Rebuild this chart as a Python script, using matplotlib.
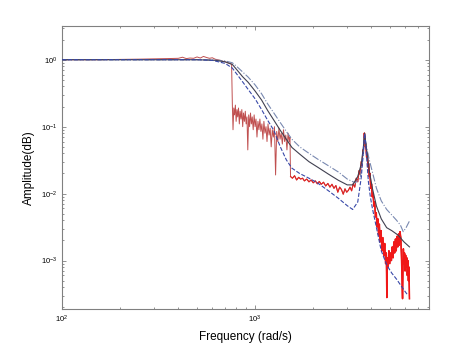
import matplotlib
matplotlib.use("Agg")
import matplotlib.pyplot as plt
import numpy as np

plt.rcParams['font.family'] = ['Liberation Sans', 'DejaVu Sans']

# measured response (noisy)
meas_f = [100, 150, 200, 250, 300, 350, 400, 420, 440, 460, 480, 500, 520, 540, 560, 580, 600, 620, 640, 660, 680, 700, 720, 740, 755,
          762, 768, 775, 782, 790, 797, 805, 812, 820, 828, 836, 845, 853, 862, 870, 880, 889, 898, 907, 916,
          926, 936, 946, 956, 966, 977, 988, 999, 1010, 1022, 1034, 1046, 1058, 1071, 1084, 1097, 1110, 1124, 1138, 1152,
          1166, 1181, 1196, 1211, 1227, 1243, 1259, 1276, 1293, 1310, 1328, 1346, 1364, 1383, 1402, 1421, 1441, 1461, 1481, 1500, 1515,
          1525, 1560, 1600, 1640, 1680, 1720, 1760, 1800, 1850, 1900, 1950, 2000, 2050, 2100, 2150, 2200, 2260, 2320, 2380, 2440,
          2500, 2560, 2620, 2680, 2740, 2800, 2860, 2920, 2980, 3040,
          3100, 3160, 3220, 3280, 3340, 3400, 3450, 3500, 3540, 3580, 3610, 3640, 3665, 3680,
          3700, 3725, 3750, 3780, 3810, 3840, 3870, 3900, 3935, 3970, 4005, 4040, 4080, 4120, 4160, 4200, 4240, 4280, 4320, 4360,
          4400, 4440, 4490, 4540, 4590, 4640, 4690, 4740, 4780, 4810, 4840, 4880, 4930, 4980, 5030, 5080, 5130, 5180, 5230, 5280,
          5330, 5380, 5430, 5480, 5530, 5580, 5630, 5680, 5720, 5760, 5800, 5830, 5860, 5900, 5940, 5980, 6020, 6060, 6100, 6140,
          6180, 6220, 6260, 6300]
meas_a = [1.0, 1.0, 1.01, 1.02, 1.03, 1.04, 1.05, 1.09, 1.04, 1.06, 1.05, 1.10, 1.06, 1.12, 1.08, 1.05, 1.07, 1.02, 1.0, 0.98, 0.95, 0.93, 0.9, 0.88, 0.86,
          0.21, 0.09, 0.19, 0.15, 0.21, 0.12, 0.18, 0.14, 0.19, 0.11, 0.17, 0.13, 0.18, 0.10, 0.16, 0.12, 0.17, 0.11, 0.14, 0.045,
          0.15, 0.10, 0.16, 0.11, 0.14, 0.09, 0.15, 0.10, 0.13, 0.07, 0.12, 0.09, 0.13, 0.085, 0.11, 0.065, 0.12, 0.08, 0.10, 0.06,
          0.11, 0.075, 0.095, 0.05, 0.09, 0.07, 0.10, 0.019, 0.085, 0.06, 0.095, 0.065, 0.08, 0.055, 0.09, 0.06, 0.075, 0.045, 0.08, 0.06, 0.07,
          0.018, 0.017, 0.0185, 0.016, 0.0175, 0.0165, 0.017, 0.0155, 0.0165, 0.015, 0.016, 0.0145, 0.0155, 0.014, 0.0152, 0.0138, 0.0148, 0.013, 0.0142, 0.0125,
          0.0138, 0.012, 0.0132, 0.0105, 0.0125, 0.0115, 0.0098, 0.0118, 0.0105, 0.0112,
          0.0125, 0.011, 0.014, 0.0125, 0.017, 0.015, 0.022, 0.019, 0.03, 0.026, 0.045, 0.04, 0.07, 0.08,
          0.07, 0.05, 0.055, 0.035, 0.04, 0.025, 0.028, 0.018, 0.02, 0.012, 0.014, 0.009, 0.010, 0.0065, 0.0075, 0.0045, 0.0052, 0.0032, 0.0042, 0.0024,
          0.0035, 0.0019, 0.0028, 0.0014, 0.0022, 0.0012, 0.0018, 0.0009, 0.0013, 0.00028, 0.0011, 0.0008, 0.0014, 0.0009, 0.0013, 0.0010, 0.0016, 0.0011, 0.0019, 0.0013,
          0.0021, 0.0014, 0.0023, 0.0016, 0.0025, 0.0017, 0.0027, 0.0022, 0.0013, 0.0006, 0.00027, 0.0008, 0.0015, 0.0009, 0.0013, 0.0007, 0.0012, 0.0008, 0.0011, 0.0006,
          0.0010, 0.0005, 0.0008, 0.00027]

# nominal model
nom_f = [100, 300, 500, 620, 700, 762, 800, 860, 920, 1000, 1080, 1160, 1250, 1350, 1450, 1550, 1700, 1900, 2100, 2400,
         2700, 3000, 3200, 3400, 3550, 3650, 3690, 3730, 3800, 3900, 4050, 4250, 4500, 4800, 5100, 5500, 5900, 6300]
nom_a = [1.0, 1.0, 1.0, 0.98, 0.93, 0.85, 0.72, 0.56, 0.46, 0.34, 0.25, 0.175, 0.125, 0.088, 0.065, 0.049, 0.039, 0.030, 0.025, 0.0195,
         0.0158, 0.0135, 0.0135, 0.018, 0.028, 0.055, 0.08, 0.06, 0.04, 0.022, 0.012, 0.0065, 0.0042, 0.0031, 0.0028, 0.0024, 0.0019, 0.0016]

# upper bound model
up_f = [100, 300, 500, 620, 700, 762, 800, 860, 920, 1000, 1080, 1160, 1250, 1350, 1450, 1550, 1700, 1900, 2100, 2400,
        2700, 3000, 3300, 3500, 3620, 3680, 3720, 3800, 3900, 4050, 4250, 4500, 4800, 5100, 5400, 5650, 5850, 6050, 6300]
up_a = [1.0, 1.0, 1.0, 0.99, 0.96, 0.9, 0.8, 0.66, 0.55, 0.42, 0.31, 0.22, 0.16, 0.115, 0.085, 0.065, 0.05, 0.04, 0.033, 0.026,
        0.021, 0.0165, 0.0145, 0.017, 0.035, 0.075, 0.065, 0.045, 0.032, 0.021, 0.012, 0.0078, 0.0058, 0.0048, 0.004, 0.0034, 0.0027, 0.0031, 0.0039]

# lower bound model
low_f = [100, 300, 500, 600, 700, 762, 800, 860, 920, 1000, 1080, 1160, 1250, 1350, 1450, 1550, 1700, 1900, 2100, 2400,
         2700, 3000, 3200, 3400, 3550, 3650, 3690, 3730, 3800, 3860, 3950, 4050, 4260, 4500, 4813, 5100, 5420, 5700, 6000, 6200]
low_a = [1.0, 1.0, 1.0, 0.98, 0.88, 0.75, 0.62, 0.47, 0.36, 0.26, 0.18, 0.125, 0.088, 0.05, 0.032, 0.024, 0.02, 0.017, 0.0145, 0.011,
         0.0085, 0.0066, 0.0058, 0.0075, 0.018, 0.05, 0.08, 0.06, 0.028, 0.015, 0.009, 0.006, 0.003, 0.0014, 0.00085, 0.00065, 0.00052, 0.00042, 0.00034, 0.0003]

fig = plt.figure(figsize=(4.74, 3.55), dpi=100)
ax = fig.add_axes([0.131, 0.130, 0.774, 0.797])

# measured trace: brownish red at low freq, brighter red on the plateau and past the resonance
mf = np.array(meas_f)
ma = np.array(meas_a)
ax.loglog(mf, ma, color='#c05050', lw=0.7, zorder=2)
mid = mf >= 1525
ax.loglog(mf[mid], ma[mid], color='#e02424', lw=0.8, zorder=2.2)
hi = mf >= 3650
ax.loglog(mf[hi], ma[hi], color='#f01818', lw=1.1, zorder=2.5)

ax.loglog(up_f, up_a, color='#7888b0', lw=0.8, ls='-.', zorder=3)
ax.loglog(nom_f, nom_a, color='#404050', lw=0.8, ls='-', zorder=3)
ax.loglog(low_f, low_a, color='#3848a8', lw=0.8, ls='--', zorder=3)

ax.set_xlim(100, 7950)
ax.set_ylim(1.9e-4, 3.2)
ax.set_xlabel('Frequency (rad/s)', fontsize=8.5)
ax.set_ylabel('Amplitude(dB)', fontsize=8.5)

ax.tick_params(which='both', direction='in', top=True, right=True, colors='#808080',
               labelcolor='black', labelsize=5.5, width=0.6)
ax.tick_params(which='major', length=3)
ax.tick_params(which='minor', length=1.5)
for s in ax.spines.values():
    s.set_color('#808080')
    s.set_linewidth(0.8)

fig.savefig('out.png', dpi=100)
